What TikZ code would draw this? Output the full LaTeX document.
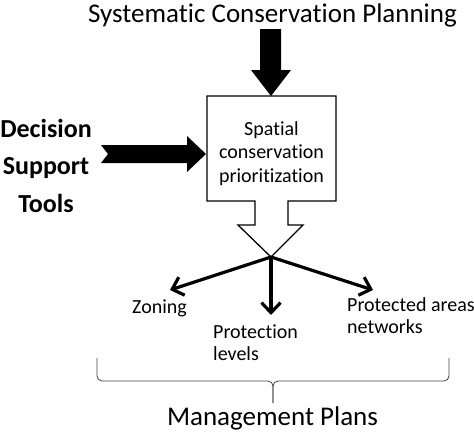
\documentclass[tikz,border=0pt]{standalone}
\usepackage{fontspec}
\setmainfont{Carlito}[Ligatures=NoCommon]
\usetikzlibrary{arrows.meta}

\begin{document}
\begin{tikzpicture}[x=1pt,y=-1pt,
        lbl/.style={font=\fontsize{20}{21.5}\selectfont, inner sep=0pt, align=left, anchor=base west},
        big/.style={font=\fontsize{27}{32}\selectfont, inner sep=0pt, anchor=base},
        outarrow/.style={line width=3.2pt, -{Straight Barb[length=10pt,width=19pt,line width=3.2pt]}},
        bracket/.style={line width=0.8pt, draw=black!75, rounded corners=5pt}]
        \useasboundingbox (0,0) rectangle (474,432);
        \coordinate (hub) at (271,257);
        \coordinate (zone) at (170,290);
        \coordinate (lev) at (271,315);
        \coordinate (net) at (373,290);
        
        % block arrows and box
        \fill (260,29) -- (281,29) -- (281,70) -- (291,70) -- (271,96) -- (251,70) -- (260,70) -- cycle;
        \fill (101,145) -- (187,145) -- (187,136) -- (206,154) -- (187,172) -- (187,163) -- (101,163) -- (108,154) -- cycle;
        \draw[line width=1.3pt] (207,201) -- (207,96) -- (336,96) -- (336,201) -- (288,201) -- (288,225) -- (303,225) -- (hub) -- (238,225) -- (255,225) -- (255,201) -- cycle;
        
        \foreach \e in 
        {zone,lev,net}
        {
            \draw[outarrow] (hub) -- (\e);
        };
        
        \draw[bracket] (97,358) |- (273,381) -- (273,403);
        \draw[bracket] (449,358) |- (273,381) -- (273,403);
        
        \node[big] (title) at (272.5,22) {Systematic Conservation Planning};
        \node[font=\bfseries\fontsize{26}{37.5}\selectfont, align=center, inner sep=0pt, anchor=base] (dst) at (46,212) {Decision\\Support\\Tools};
        \node[font=\fontsize{20}{23.5}\selectfont, align=center, inner sep=0pt, anchor=base] (scp) at (271.5,182) {Spatial\\conservation\\prioritization};
        \node[lbl] (zoning) at (132,313) {Zoning};
        \node[lbl] (levels) at (213,360) {Protection\\levels};
        \node[lbl] (nets) at (347,333) {Protected areas\\networks};
        \node[big] (plans) at (272.5,425) {Management Plans};
    \end{tikzpicture}
\end{document}
